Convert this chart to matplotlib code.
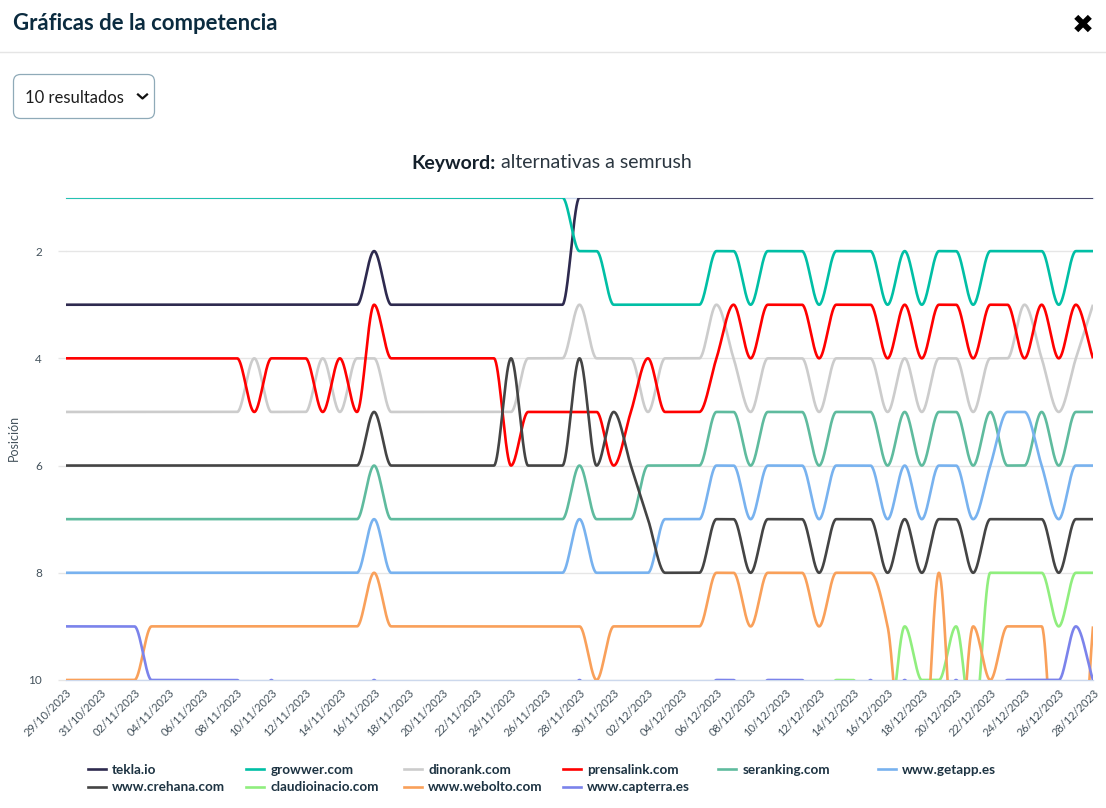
import numpy as np
import pandas as pd
import matplotlib
matplotlib.use('Agg')
import matplotlib.pyplot as plt
from matplotlib.lines import Line2D
from matplotlib.patches import FancyBboxPatch

plt.rcParams['font.family'] = ['Lato', 'DejaVu Sans']

W, H = 1106, 808

dates = pd.date_range('2023-10-29', '2023-12-28').strftime('%d/%m/%Y').tolist()

# daily position per domain, 11+ means out of the chart (below position 10)
tekla = [3, 3, 3, 3, 3, 3, 3, 3, 3, 3,
         3, 3, 3, 3, 3, 3, 3, 3, 2, 3,
         3, 3, 3, 3, 3, 3, 3, 3, 3, 3,
         1, 1, 1, 1, 1, 1, 1, 1, 1, 1,
         1, 1, 1, 1, 1, 1, 1, 1, 1, 1,
         1, 1, 1, 1, 1, 1, 1, 1, 1, 1, 1]
growwer = [1, 1, 1, 1, 1, 1, 1, 1, 1, 1,
           1, 1, 1, 1, 1, 1, 1, 1, 1, 1,
           1, 1, 1, 1, 1, 1, 1, 1, 1, 1,
           2, 2, 3, 3, 3, 3, 3, 3, 2, 2,
           3, 2, 2, 2, 3, 2, 2, 2, 3, 2,
           3, 2, 2, 3, 2, 2, 2, 2, 3, 2, 2]
dinorank = [5, 5, 5, 5, 5, 5, 5, 5, 5, 5,
            5, 4, 5, 5, 5, 4, 5, 4, 4, 5,
            5, 5, 5, 5, 5, 5, 5, 4, 4, 4,
            3, 4, 4, 4, 5, 4, 4, 4, 3, 4,
            5, 4, 4, 4, 5, 4, 4, 4, 5, 4,
            5, 4, 4, 5, 4, 4, 3, 4, 5, 4, 3]
prensalink = [4, 4, 4, 4, 4, 4, 4, 4, 4, 4,
              4, 5, 4, 4, 4, 5, 4, 5, 3, 4,
              4, 4, 4, 4, 4, 4, 6, 5, 5, 5,
              5, 5, 6, 5, 4, 5, 5, 5, 4, 3,
              4, 3, 3, 3, 4, 3, 3, 3, 4, 3,
              4, 3, 3, 4, 3, 3, 4, 3, 4, 3, 4]
seranking = [7, 7, 7, 7, 7, 7, 7, 7, 7, 7,
             7, 7, 7, 7, 7, 7, 7, 7, 6, 7,
             7, 7, 7, 7, 7, 7, 7, 7, 7, 7,
             6, 7, 7, 7, 6, 6, 6, 6, 5, 5,
             6, 5, 5, 5, 6, 5, 5, 5, 6, 5,
             6, 5, 5, 6, 5, 6, 6, 5, 6, 5, 5]
getapp = [8, 8, 8, 8, 8, 8, 8, 8, 8, 8,
          8, 8, 8, 8, 8, 8, 8, 8, 7, 8,
          8, 8, 8, 8, 8, 8, 8, 8, 8, 8,
          7, 8, 8, 8, 8, 7, 7, 7, 6, 6,
          7, 6, 6, 6, 7, 6, 6, 6, 7, 6,
          7, 6, 6, 7, 6, 5, 5, 6, 7, 6, 6]
crehana = [6, 6, 6, 6, 6, 6, 6, 6, 6, 6,
           6, 6, 6, 6, 6, 6, 6, 6, 5, 6,
           6, 6, 6, 6, 6, 6, 4, 6, 6, 6,
           4, 6, 5, 6, 7, 8, 8, 8, 7, 7,
           8, 7, 7, 7, 8, 7, 7, 7, 8, 7,
           8, 7, 7, 8, 7, 7, 7, 7, 8, 7, 7]
claudioinacio = [11, 11, 11, 11, 11, 11, 11, 11, 11, 11,
                 11, 11, 11, 11, 11, 11, 11, 11, 11, 11,
                 11, 11, 11, 11, 11, 11, 11, 11, 11, 11,
                 11, 11, 11, 11, 11, 11, 11, 11, 11, 11,
                 11, 11, 11, 11, 11, 10, 10, 11, 11, 9,
                 10, 10, 9, 11, 8, 8, 8, 8, 9, 8, 8]
webolto = [10, 10, 10, 10, 10, 9, 9, 9, 9, 9,
           9, 9, 9, 9, 9, 9, 9, 9, 8, 9,
           9, 9, 9, 9, 9, 9, 9, 9, 9, 9,
           9, 10, 9, 9, 9, 9, 9, 9, 8, 8,
           9, 8, 8, 8, 9, 8, 8, 8, 9, 12,
           12, 8, 12, 9, 10, 9, 9, 9, 13, 13, 9]
capterra = [9, 9, 9, 9, 9, 10, 10, 10, 10, 10,
            10, 11, 10, 11, 11, 11, 11, 11, 10, 11,
            11, 11, 11, 11, 11, 11, 11, 11, 11, 11,
            10, 11, 11, 11, 11, 11, 11, 11, 10, 10,
            11, 10, 10, 10, 11, 11, 11, 10, 11, 10,
            11, 11, 10, 11, 11, 10, 10, 10, 10, 9, 10]

names = ['tekla.io', 'growwer.com', 'dinorank.com', 'prensalink.com', 'seranking.com',
         'www.getapp.es', 'www.crehana.com', 'claudioinacio.com', 'www.webolto.com', 'www.capterra.es']
series = [tekla, growwer, dinorank, prensalink, seranking,
          getapp, crehana, claudioinacio, webolto, capterra]
colors = ['#2e2a4f', '#00bfa5', '#cccccc', '#ff0000', '#5fbb9e',
          '#78b2ef', '#444444', '#90ee7e', '#f9a05a', '#7b83eb']


def monotone_curve(y, steps=40):
    # same smoothing the chart library applies between the daily points
    y = np.asarray(y, dtype=float)
    sec = np.diff(y)
    tan = np.zeros(len(y))
    for i in range(1, len(y) - 1):
        if sec[i - 1] * sec[i] > 0:
            tan[i] = 2 * sec[i - 1] * sec[i] / (sec[i - 1] + sec[i])
    tan[0], tan[-1] = sec[0], sec[-1]
    xs, ys = [], []
    for i in range(len(y) - 1):
        t = np.linspace(0, 1, steps, endpoint=False)
        ys.append((2*t**3 - 3*t**2 + 1) * y[i] + (t**3 - 2*t**2 + t) * tan[i]
                  + (-2*t**3 + 3*t**2) * y[i + 1] + (t**3 - t**2) * tan[i + 1])
        xs.append(i + t)
    xs.append([len(y) - 1])
    ys.append([y[-1]])
    return np.concatenate(xs), np.concatenate(ys)


fig = plt.figure(figsize=(W / 100, H / 100), dpi=100, facecolor='white')

# page chrome in pixel coordinates
ui = fig.add_axes([0, 0, 1, 1])
ui.set_xlim(0, W)
ui.set_ylim(H, 0)
ui.axis('off')
ui.text(13, 23, 'Gráficas de la competencia', fontsize=15.9, fontweight='bold',
        color='#0b2b3f', va='center')
ui.text(1083, 26, '\u2716', fontsize=19, color='#000000', ha='center', va='center',
        family='DejaVu Sans')
ui.plot([0, W], [51.5, 51.5], color='#e5e5e5', lw=1)
ui.add_patch(FancyBboxPatch((13.5, 74.5), 141, 44, boxstyle='round,pad=0,rounding_size=7',
                            fc='white', ec='#8faab8', lw=0.9))
ui.text(25, 98, '10 resultados', fontsize=12, color='#1c1c1c', va='center')
ui.plot([138, 142.5, 147], [94.5, 98.5, 94.5], color='#111111', lw=1.6)
ui.text(411, 163, 'Keyword:', fontsize=14, fontweight='bold', color='#14202b', va='center')
ui.text(501, 163, 'alternativas a semrush', fontsize=14, color='#2b3640', va='center')
ui.text(14, 438, 'Posición', fontsize=9, color='#44525c', rotation=90, ha='center', va='center')

# chart
ax = fig.add_axes([66 / W, 1 - 680 / H, (1093 - 66) / W, (680 - 197.5) / H])
ax.patch.set_alpha(0)
for name, values, color in zip(names, series, colors):
    cx, cy = monotone_curve(values)
    ax.plot(cx, cy, color=color, lw=1.9, label=name, solid_capstyle='butt', zorder=3)

ax.set_xlim(0, len(dates) - 1)
ax.set_ylim(10, 1)
ax.set_yticks([2, 4, 6, 8, 10])
ax.yaxis.grid(True, color='#e6e6e6', lw=1)
ax.set_axisbelow(True)
ax.tick_params(axis='y', length=5.8, color='#e6e6e6', width=1, pad=11.5,
               labelsize=8.5, labelcolor='#44525c')
ax.set_xticks(range(0, len(dates), 2))
ax.set_xticklabels(dates[::2], rotation=45, ha='right', va='top', rotation_mode='anchor')
ax.tick_params(axis='x', length=0, pad=5, labelsize=8, labelcolor='#44525c')
for side in ['left', 'right']:
    ax.spines[side].set_visible(False)
for side in ['top', 'bottom']:
    ax.spines[side].set_color('#ccd8ec')
    ax.spines[side].set_linewidth(1)
    ax.spines[side].set_zorder(1)

# legend: two rows, fixed width columns, one small legend per column
col_x = [88, 246, 404, 563, 718, 878]
handles = [Line2D([], [], color=c, lw=1.9) for c in colors]
for col, px in enumerate(col_x):
    idx = [col, col + 6] if col + 6 < len(names) else [col]
    leg = fig.legend([handles[i] for i in idx], [names[i] for i in idx],
                     loc='upper left', bbox_to_anchor=(px / W, 1 - 764 / H),
                     frameon=False, borderpad=0, borderaxespad=0, handlelength=1.35,
                     handletextpad=0.45, labelspacing=0.4, fontsize=9.7)
    for text in leg.get_texts():
        text.set_fontweight('bold')
        text.set_color('#1d3342')

fig.savefig('out.png', dpi=100)
plt.close(fig)
